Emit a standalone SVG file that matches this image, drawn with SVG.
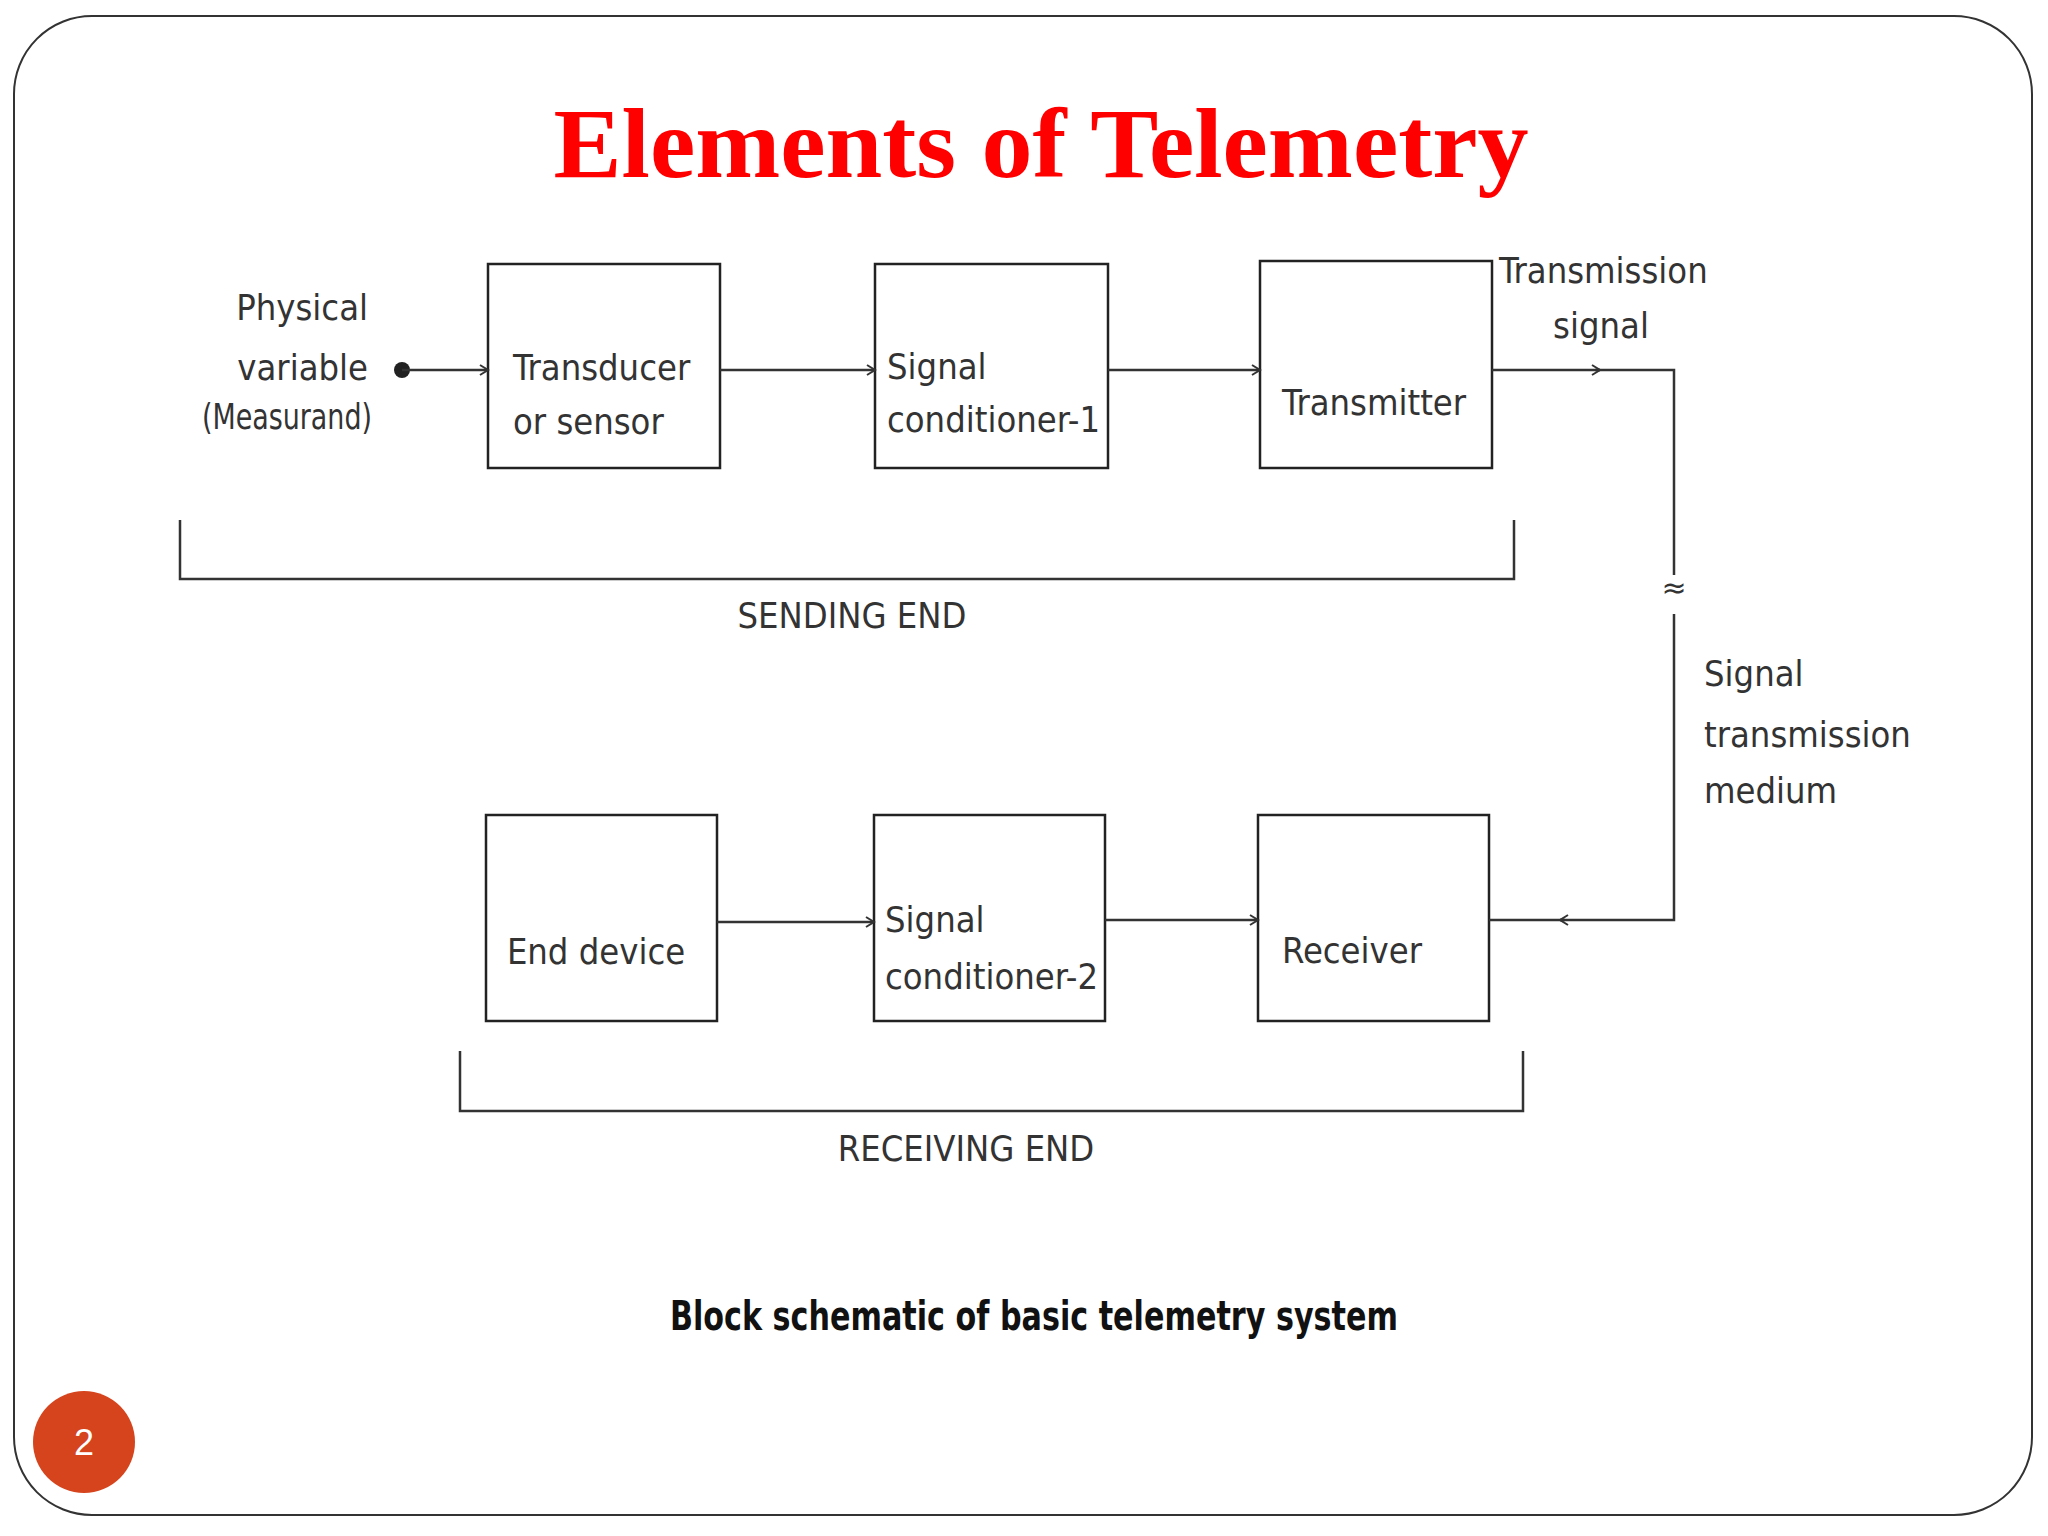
<svg xmlns="http://www.w3.org/2000/svg" width="2048" height="1536" viewBox="0 0 2048 1536">
<style>
.b{fill:#fff;stroke:#222;stroke-width:2.5}
.t{font-family:"DejaVu Sans Condensed","DejaVu Sans",sans-serif;font-size:36px;fill:#333}
.l{fill:none;stroke:#333;stroke-width:2.5}
</style>
<defs><marker id="a" markerWidth="12" markerHeight="12" refX="10" refY="6" orient="auto" markerUnits="userSpaceOnUse"><path d="M2,1 L10,6 L2,11" fill="none" stroke="#333" stroke-width="2"/></marker></defs>
<rect x="0" y="0" width="2048" height="1536" fill="#fff"/>
<rect x="14" y="16" width="2018" height="1499" rx="78" fill="#fff" stroke="#333" stroke-width="2"/>
<text x="1041" y="177" text-anchor="middle" font-family="Liberation Serif,serif" font-weight="bold" font-size="100" fill="#f00" textLength="975" lengthAdjust="spacingAndGlyphs">Elements of Telemetry</text>
<g id="input"><text class="t" x="368" y="320" text-anchor="end">Physical</text><text class="t" x="368" y="380" text-anchor="end">variable</text><text class="t" x="287" y="429" text-anchor="middle" font-size="29" textLength="170" lengthAdjust="spacingAndGlyphs">(Measurand)</text></g>
<g id="transducer"><rect class="b" x="488" y="264" width="232" height="204"/><text class="t" x="513" y="380">Transducer</text><text class="t" x="513" y="434">or sensor</text></g>
<g id="sc1"><rect class="b" x="875" y="264" width="233" height="204"/><text class="t" x="887" y="379">Signal</text><text class="t" x="887" y="432">conditioner-1</text></g>
<g id="tx"><rect class="b" x="1260" y="261" width="232" height="207"/><text class="t" x="1374" y="415" text-anchor="middle">Transmitter</text></g>
<g id="end"><rect class="b" x="486" y="815" width="231" height="206"/><text class="t" x="596" y="964" text-anchor="middle">End device</text></g>
<g id="sc2"><rect class="b" x="874" y="815" width="231" height="206"/><text class="t" x="885" y="932">Signal</text><text class="t" x="885" y="989">conditioner-2</text></g>
<g id="rx"><rect class="b" x="1258" y="815" width="231" height="206"/><text class="t" x="1282" y="963">Receiver</text></g>
<g id="connectors">
<circle cx="402" cy="370" r="8" fill="#222"/>
<line class="l" x1="402" y1="370" x2="488" y2="370" marker-end="url(#a)"/>
<line class="l" x1="720" y1="370" x2="875" y2="370" marker-end="url(#a)"/>
<line class="l" x1="1108" y1="370" x2="1260" y2="370" marker-end="url(#a)"/>
<line class="l" x1="1492" y1="370" x2="1600" y2="370" marker-end="url(#a)"/>
<polyline class="l" points="1595,370 1674,370 1674,575"/>
<text x="1674" y="598" text-anchor="middle" font-family="DejaVu Sans,sans-serif" font-size="30" fill="#333">≈</text>
<polyline class="l" points="1674,614 1674,920 1560,920"/>
<line class="l" x1="1565" y1="920" x2="1560" y2="920" marker-end="url(#a)"/>
<line class="l" x1="1560" y1="920" x2="1489" y2="920"/>
<line class="l" x1="1258" y1="920" x2="1105" y2="920" transform="rotate(180 1181.5 920)" marker-end="url(#a)"/>
<line class="l" x1="717" y1="922" x2="874" y2="922" marker-end="url(#a)"/>
<polyline class="l" points="180,520 180,579 1514,579 1514,520"/>
<polyline class="l" points="460,1051 460,1111 1523,1111 1523,1051"/>
</g>
<text class="t" x="1499" y="283">Transmission</text>
<text class="t" x="1601" y="338" text-anchor="middle">signal</text>
<text class="t" x="1704" y="686">Signal</text>
<text class="t" x="1704" y="747">transmission</text>
<text class="t" x="1704" y="803">medium</text>
<text class="t" x="852" y="628" text-anchor="middle">SENDING END</text>
<text class="t" x="966" y="1161" text-anchor="middle">RECEIVING END</text>
<text x="1034" y="1330" text-anchor="middle" font-family="DejaVu Sans Condensed,sans-serif" font-weight="bold" font-size="40" fill="#111" textLength="728" lengthAdjust="spacingAndGlyphs">Block schematic of basic telemetry system</text>
<circle cx="84" cy="1442" r="51" fill="#D5441C"/>
<text x="84" y="1455" text-anchor="middle" font-family="Liberation Sans,sans-serif" font-size="36" fill="#fff">2</text>
</svg>
